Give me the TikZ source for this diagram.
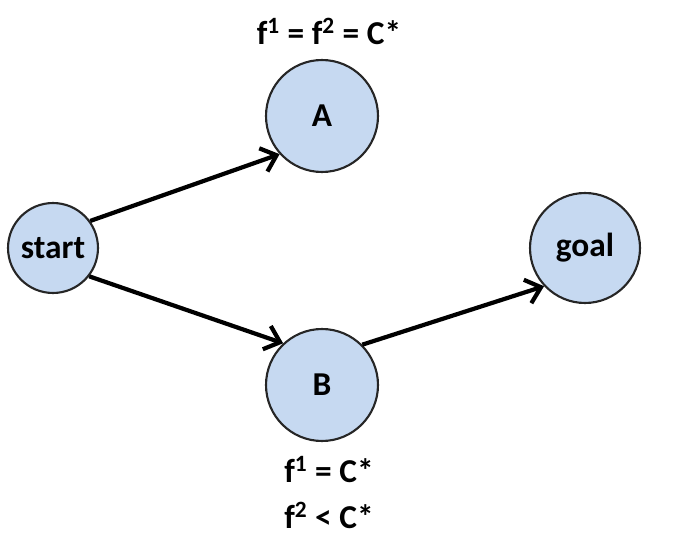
\documentclass[tikz,border=0pt]{standalone}
\usepackage{fontspec}
\setmainfont{Carlito}
\usetikzlibrary{arrows.meta}
\definecolor{nodefill}{HTML}{C6D9F1}
\begin{document}
\begin{tikzpicture}[x=0.02cm,y=-0.02cm,
  st/.style={circle,draw=black!85,line width=1.2pt,fill=nodefill,inner sep=0pt,font=\fontsize{19}{21}\selectfont\bfseries},
  lb/.style={font=\fontsize{19}{21}\selectfont\bfseries},
  ar/.style={line width=2.4pt,-{Straight Barb[length=8pt,width=14pt,line width=2.4pt]}}]
\useasboundingbox (0,0) rectangle (676,547);
\node[st,minimum size=1.8cm] (start) at (53,248) {start};
\node[st,minimum size=2.24cm] (A) at (322,116) {A};
\node[st,minimum size=2.24cm] (B) at (322,385) {B};
\node[st,minimum size=2.2cm] (goal) at (585,248) {goal};
\node[lb] (la) at (329,31) {f\textsuperscript{1} = f\textsuperscript{2} = C*};
\node[lb] (lb1) at (329,470) {f\textsuperscript{1} = C*};
\node[lb] (lb2) at (329,515) {f\textsuperscript{2} < C*};
\draw[ar] (start.36) -- (A.222);
\draw[ar] (start.-38) -- (B.133);
\draw[ar] (B.45) -- (goal.223);
\end{tikzpicture}
\end{document}
